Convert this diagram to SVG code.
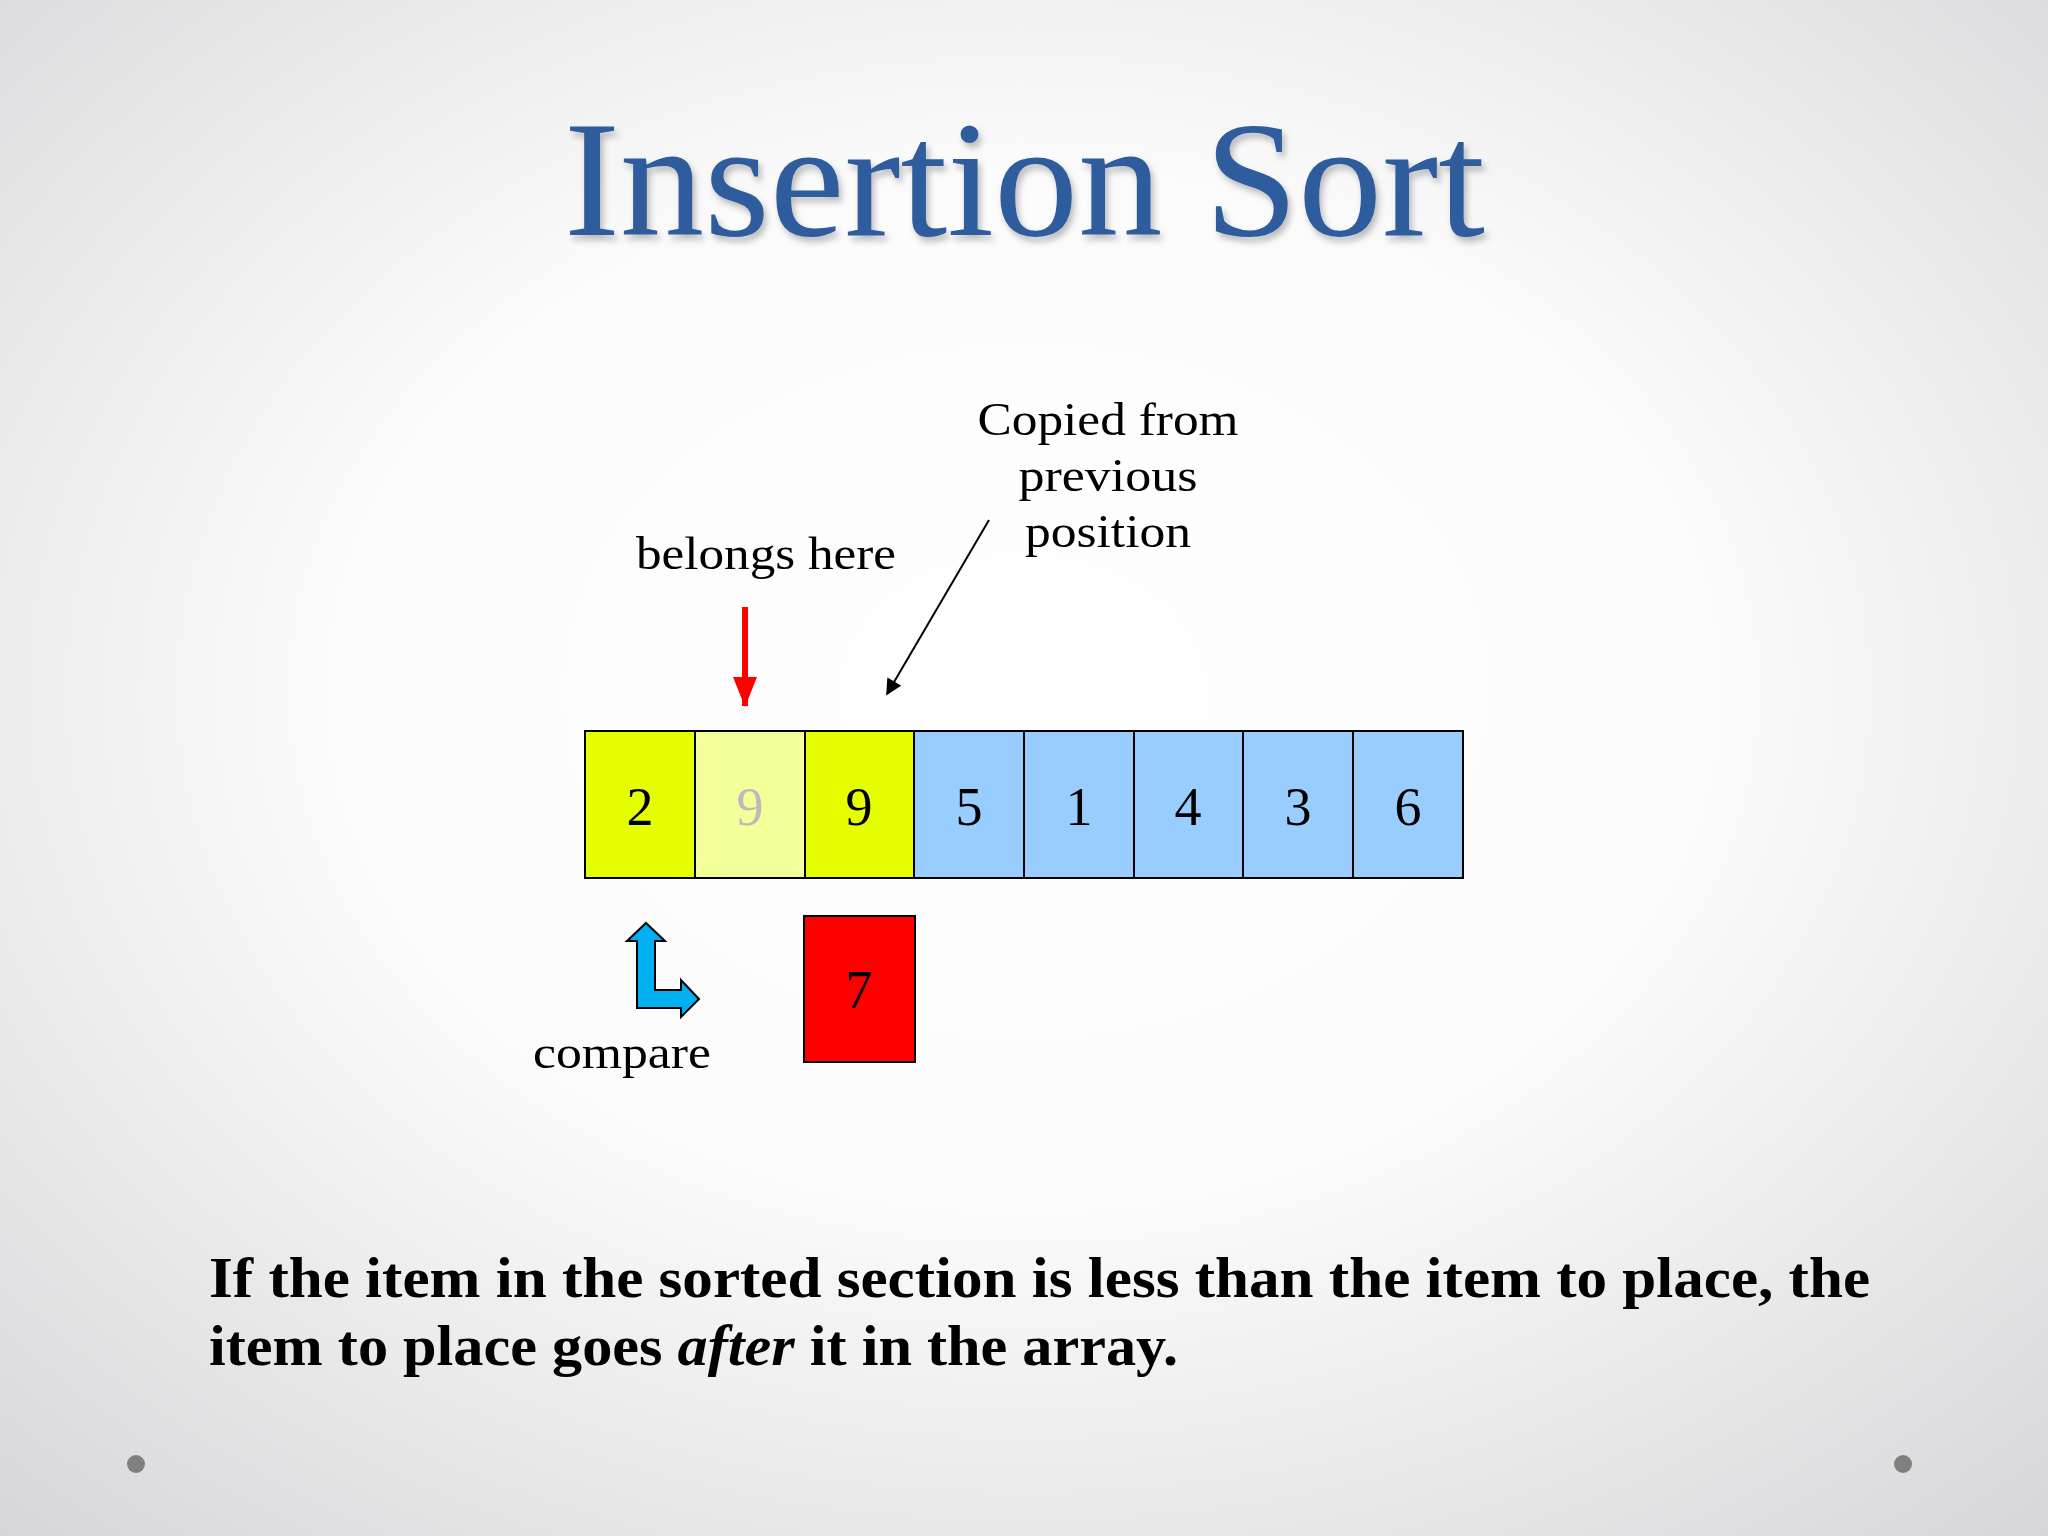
<svg xmlns="http://www.w3.org/2000/svg" width="2048" height="1536" viewBox="0 0 2048 1536">
<defs>
<radialGradient id="bg" cx="50%" cy="45%" r="75%">
<stop offset="0" stop-color="#FFFFFF"/>
<stop offset="0.45" stop-color="#FBFBFC"/>
<stop offset="1" stop-color="#D6D6D8"/>
</radialGradient>
<filter id="shadow" x="-5%" y="-10%" width="110%" height="130%">
<feDropShadow dx="3" dy="5" stdDeviation="3" flood-color="#000" flood-opacity="0.25"/>
</filter>
<marker id="headRed" viewBox="0 0 30 24" refX="29" refY="12" markerWidth="30" markerHeight="24" orient="auto" markerUnits="userSpaceOnUse">
<path d="M0,0 L30,12 L0,24 z" fill="#FF0000"/>
</marker>
<marker id="headBlack" viewBox="0 0 10 10" refX="9" refY="5" markerWidth="9" markerHeight="8" orient="auto" markerUnits="strokeWidth">
<path d="M0,0 L10,5 L0,10 z" fill="#000"/>
</marker>
<style>
.cell{stroke:#000;stroke-width:2}
.yel{fill:#E6FF00}
.lyel{fill:#F3FF99}
.blue{fill:#99CCFF}
.num{font-family:"Liberation Serif",serif;font-size:54px;fill:#000;text-anchor:middle}
.lbl{font-family:"Liberation Serif",serif;font-size:46px;fill:#000}
.ctr{text-anchor:middle}
.body{font-family:"Liberation Serif",serif;font-size:58px;font-weight:bold;fill:#000}
</style>
</defs>
<rect x="0" y="0" width="2048" height="1536" fill="url(#bg)"/>

<g id="title">
<text x="564" y="235" font-family="Liberation Serif, serif" font-size="166" fill="#2F5C9C" textLength="921" lengthAdjust="spacingAndGlyphs" filter="url(#shadow)">Insertion Sort</text>
</g>

<g id="array">
<g id="cell0"><rect class="cell yel" x="585" y="731" width="110" height="147"/><text class="num" x="640" y="825">2</text></g>
<g id="cell1"><rect class="cell lyel" x="695" y="731" width="110" height="147"/><text class="num" x="750" y="825" style="fill:#BBBBBB">9</text></g>
<g id="cell2"><rect class="cell yel" x="805" y="731" width="109" height="147"/><text class="num" x="859" y="825">9</text></g>
<g id="cell3"><rect class="cell blue" x="914" y="731" width="110" height="147"/><text class="num" x="969" y="825">5</text></g>
<g id="cell4"><rect class="cell blue" x="1024" y="731" width="110" height="147"/><text class="num" x="1079" y="825">1</text></g>
<g id="cell5"><rect class="cell blue" x="1134" y="731" width="109" height="147"/><text class="num" x="1188" y="825">4</text></g>
<g id="cell6"><rect class="cell blue" x="1243" y="731" width="110" height="147"/><text class="num" x="1298" y="825">3</text></g>
<g id="cell7"><rect class="cell blue" x="1353" y="731" width="110" height="147"/><text class="num" x="1408" y="825">6</text></g>
</g>

<g id="item">
<rect x="804" y="916" width="111" height="146" fill="#FF0000" stroke="#000" stroke-width="2"/>
<text class="num" x="859" y="1008">7</text>
</g>

<g id="label-belongs">
<text class="lbl" x="636" y="569" textLength="260" lengthAdjust="spacingAndGlyphs">belongs here</text>
</g>

<g id="label-copied">
<text class="lbl ctr" x="1108" y="435" textLength="261" lengthAdjust="spacingAndGlyphs">Copied from</text>
<text class="lbl ctr" x="1108" y="491" textLength="179" lengthAdjust="spacingAndGlyphs">previous</text>
<text class="lbl ctr" x="1108" y="547" textLength="166" lengthAdjust="spacingAndGlyphs">position</text>
</g>

<g id="compare">
<path d="M646,923 L665,941 L655,941 L655,990 L681,990 L681,980 L699,999 L681,1017 L681,1008 L637,1008 L637,941 L627,941 Z" fill="#00B0F0" stroke="#000" stroke-width="2" stroke-linejoin="miter"/>
<text class="lbl" x="533" y="1068" textLength="178" lengthAdjust="spacingAndGlyphs">compare</text>
</g>

<g id="connectors">
<line x1="745" y1="607" x2="745" y2="706" stroke="#FF0000" stroke-width="6" marker-end="url(#headRed)"/>
<line x1="989" y1="520" x2="887" y2="694" stroke="#000" stroke-width="2" marker-end="url(#headBlack)"/>
</g>

<g id="caption">
<text class="body" x="209" y="1297" textLength="1661" lengthAdjust="spacingAndGlyphs">If the item in the sorted section is less than the item to place, the</text>
<text class="body" x="209" y="1365" textLength="969" lengthAdjust="spacingAndGlyphs">item to place goes <tspan font-style="italic">after</tspan> it in the array.</text>
</g>

<g id="dots">
<circle cx="136" cy="1464" r="9" fill="#808080"/>
<circle cx="1903" cy="1464" r="9" fill="#808080"/>
</g>
</svg>
